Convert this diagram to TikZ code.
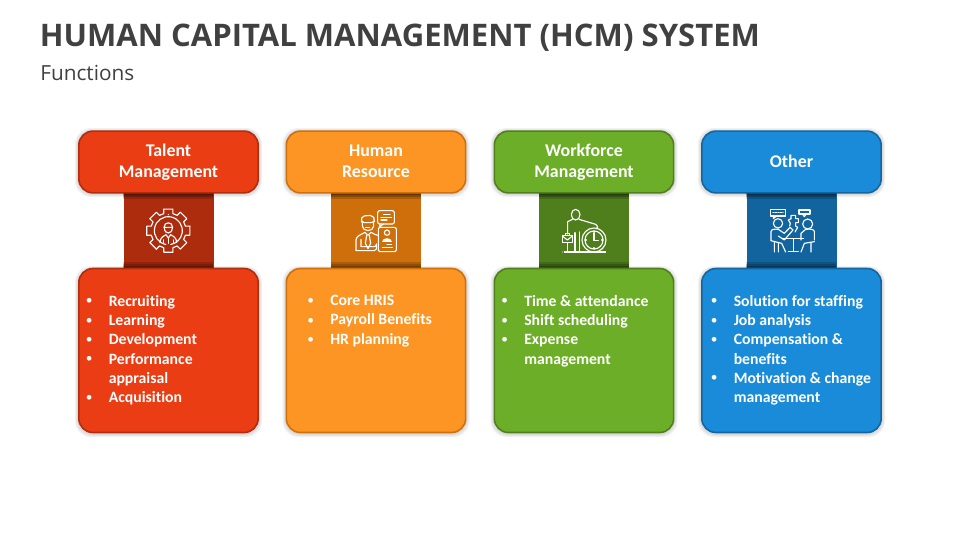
\documentclass[tikz,border=0pt]{standalone}
\usepackage{fontspec}
\setmainfont[Ligatures=NoCommon]{Carlito}
\newfontfamily\titlefont{Open Sans}
\definecolor{redm}{HTML}{EB3D14}\definecolor{redd}{HTML}{AE2C0E}\definecolor{rede}{HTML}{B02D0E}
\definecolor{orgm}{HTML}{FC9523}\definecolor{orgd}{HTML}{CF6F0B}\definecolor{orge}{HTML}{D0700C}
\definecolor{grnm}{HTML}{6CAE27}\definecolor{grnd}{HTML}{4F7F1C}\definecolor{grne}{HTML}{50801D}
\definecolor{blum}{HTML}{1A8BD8}\definecolor{blud}{HTML}{12649E}\definecolor{blue2}{HTML}{13669F}
\definecolor{titlec}{HTML}{404040}
\tikzset{x=0.75pt,y=-0.75pt,
  headbox/.style={rectangle,rounded corners=10.5pt,minimum width=134.5pt,minimum height=46.3pt,line width=1.2pt,text=white,align=center,font=\bfseries\fontsize{13.4}{15.8}\selectfont,inner sep=0pt,outer sep=0pt},
  bodybox/.style={rectangle,rounded corners=10.5pt,minimum width=134.5pt,minimum height=123pt,line width=1.2pt,inner sep=0pt,outer sep=0pt},
  bandbox/.style={rectangle,minimum width=67.5pt,minimum height=60pt,inner sep=0pt,outer sep=0pt},
  listtext/.style={anchor=north west,text=white,align=left,inner sep=0pt,font=\bfseries\fontsize{11.8}{14.45}\selectfont},
  bullettext/.style={anchor=north west,text=white,align=left,inner sep=0pt,font=\fontsize{10}{14.45}\selectfont},
  iconline/.style={draw=white,line width=0.85pt,line cap=round,line join=round,fill=none},
  shadowlayer/.style={fill=black,fill opacity=0.05,rounded corners=12pt,draw=none},
  bandshade/.style={fill=black,fill opacity=0.16,draw=none}
}
\newcommand{\softshadow}[4]{%
  \foreach \e in {3,2,1}{\fill[shadowlayer] (#1-\e,#2-\e+1) rectangle (#3+\e,#4+\e+1);}}
\newcommand{\onecol}[9]{% id,x,fill,edge,band,header,bulletx,bullets,items
  \node[bandbox,fill=#5] (band#1) at (#2+90.5,230.5) {};
  \foreach \e in {2,4,6}{
    \fill[bandshade] (#2+45,193) rectangle (#2+135,193+\e);
    \fill[bandshade] (#2+45,268-\e) rectangle (#2+135,268);}
  \softshadow{#2}{130}{#2+181}{193}
  \softshadow{#2}{268}{#2+181}{433}
  \node[headbox,fill=#3,draw=#4] (head#1) at (#2+90.5,162) {#6};
  \node[bodybox,fill=#3,draw=#4] (body#1) at (#2+90.5,350.5) {};
  \node[bullettext] (bul#1) at (#2+#7-1,298.5) {#8};
  \node[listtext] (txt#1) at (#2+#7+22,295) {#9};
}
\begin{document}
\begin{tikzpicture}
\useasboundingbox (0,0) rectangle (960,540);
\node[anchor=base west,inner sep=0pt,text=titlec,font=\titlefont\bfseries\fontsize{23.3}{28}\selectfont] (title) at (39.5,46) {HUMAN CAPITAL MANAGEMENT (HCM) SYSTEM};
\node[anchor=base west,inner sep=0pt,text=titlec,font=\titlefont\fontsize{15.6}{18}\selectfont] (subtitle) at (40,80) {Functions};

\onecol{a}{78}{redm}{rede}{redd}{Talent\\Management}{8.5}{•\\•\\•\\•\\[14.45pt]•}{Recruiting\\Learning\\Development\\Performance\\appraisal\\Acquisition}
\onecol{b}{285.5}{orgm}{orge}{orgd}{Human\\Resource\rule[-1.5pt]{0pt}{1pt}}{22.5}{•\\•\\•}{Core HRIS\\Payroll Benefits\\HR planning}
\onecol{c}{493.5}{grnm}{grne}{grnd}{Workforce\\Management}{8.5}{•\\•\\•}{Time \& attendance\\Shift scheduling\\Expense\\management}
\onecol{d}{701}{blum}{blue2}{blud}{Other\rule[-1.5pt]{0pt}{1pt}}{10.5}{•\\•\\•\\[14.45pt]•}{Solution for staffing\\Job analysis\\Compensation \&\\benefits\\Motivation \& change\\management}

% --- gear icon
\begin{scope}[shift={(120,190)},x=0.25pt,y=-0.25pt,iconline]
  \foreach \a in {0,45,...,315}{
    \draw[iconline,shift={(145,122)}] (\a-12:66) -- (\a+12:66) -- (\a+15:53) arc[start angle=\a+15,end angle=\a+30,radius=53] -- (\a+33:66);
  }
  \draw[iconline] (145,122) ++(100:42) arc[start angle=100,end angle=440,radius=42];
  \fill[white] (145,74) circle (2);
  \draw[iconline] (132,112) .. controls (132,94) and (158,94) .. (158,112) -- cycle;
  \draw[iconline] (133,114) .. controls (134,134) and (156,134) .. (157,114);
  \draw[iconline] (120,158) .. controls (120,142) and (132,138) .. (138,134) -- (145,144) -- (152,134) .. controls (158,138) and (170,142) .. (170,158);
  \draw[iconline] (130,158) -- (130,150) (160,158) -- (160,150) (145,144) -- (145,160);
\end{scope}

% --- human resource icon
\begin{scope}[shift={(325,190)},x=0.25pt,y=-0.25pt]
  \draw[iconline,rounded corners=1.5pt] (158,62) rectangle (208,102);
  \draw[iconline] (165,102) -- (163,112) -- (175,102);
  \draw[iconline] (175,73) -- (195,73) (168,82) -- (200,82) (168,90) -- (186,90);
  \draw[iconline,rounded corners=1.5pt] (160,112) -- (214,112) -- (214,185) -- (160,185) -- cycle;
  \draw[iconline] (186,128) circle (8);
  \fill[white] (172,155) .. controls (172,140) and (200,140) .. (200,155) -- cycle;
  \draw[iconline] (172,172) -- (202,172) (186,163) -- (200,163);
  \draw[iconline,rounded corners=1.5pt] (108,92) -- (112,78) -- (142,76) -- (150,90) -- (146,98) -- (112,98) -- cycle;
  \draw[iconline] (112,98) -- (112,108) .. controls (112,126) and (146,126) .. (146,108) -- (146,98);
  \draw[iconline] (122,112) -- (134,112);
  \draw[iconline] (93,182) -- (93,150) .. controls (93,138) and (108,134) .. (120,127) -- (129,136) -- (138,127) .. controls (146,132) and (152,134) .. (158,136);
  \draw[iconline] (125,136) -- (121,160) -- (129,176) -- (137,160) -- (133,136);
  \draw[iconline] (108,148) -- (108,170) -- (150,170) -- (155,162) -- (155,176) -- (148,182) -- (93,182);
\end{scope}

% --- workforce icon
\begin{scope}[shift={(535,190)},x=0.25pt,y=-0.25pt]
  \draw[iconline] (122,74) ellipse (13 and 16);
  \draw[iconline] (98,132) -- (98,95) -- (112,88) (132,88) -- (182,103) .. controls (190,106) and (190,114) .. (184,116);
  \draw[iconline] (98,160) -- (98,186) (120,186) -- (120,128) (134,186) -- (134,126);
  \draw[iconline] (82,136) rectangle (112,158);
  \draw[iconline] (82,138) -- (97,150) -- (112,138);
  \draw[iconline] (91,136) -- (91,130) -- (104,130) -- (104,136);
  \draw[iconline] (177,150) circle (36);
  \draw[iconline] (177,150) circle (27);
  \draw[iconline] (177,130) -- (177,152) -- (190,152);
  \draw[iconline] (177,123) -- (177,127) (177,173) -- (177,177) (150,150) -- (154,150) (200,150) -- (204,150);
  \draw[iconline] (88,186) -- (212,186);
  \fill[white] (82,186) circle (1.5);
\end{scope}

% --- other icon
\begin{scope}[shift={(745,190)},x=0.25pt,y=-0.25pt]
  \draw[iconline] (76,58) rectangle (122,78);
  \draw[iconline] (85,78) -- (85,86) -- (95,78);
  \draw[iconline,densely dotted] (84,68) -- (114,68);
  \draw[iconline] (162,60) rectangle (195,72);
  \draw[iconline] (172,72) -- (178,80) -- (184,72);
  \draw[iconline] (99,100) circle (14);
  \draw[iconline] (188,102) circle (15);
  \draw[iconline] (78,152) -- (78,125) .. controls (78,118) and (90,116) .. (100,118) -- (118,130) -- (135,112) -- (144,120) -- (118,150) -- (100,138);
  \draw[iconline] (78,152) -- (110,160) -- (122,186) (88,156) -- (88,186) (100,160) -- (100,186);
  \draw[iconline] (208,150) -- (208,125) .. controls (208,118) and (196,116) .. (182,118) -- (168,130) -- (168,150);
  \draw[iconline] (208,155) -- (178,160) -- (168,186) (198,158) -- (198,186);
  \draw[iconline] (112,146) -- (176,146);
  \draw[iconline] (145,146) -- (145,185) (130,185) -- (160,185);
  \draw[iconline] (138,86) -- (138,76) -- (152,76) -- (152,86) -- (160,86) -- (160,98) -- (152,98) -- (152,108) -- (158,112) -- (150,126);
  \draw[iconline] (138,86) -- (130,90) -- (136,100) -- (134,108);
\end{scope}
\end{tikzpicture}
\end{document}
